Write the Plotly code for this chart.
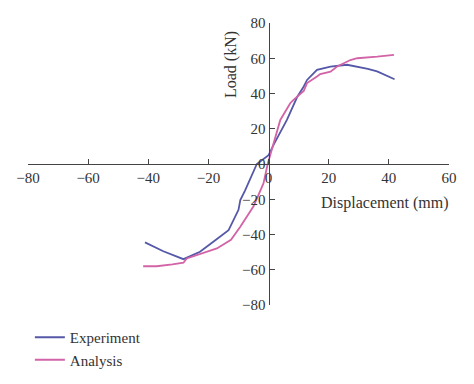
import plotly.graph_objects as go

exp_x = [-41.1, -35.0, -28.3, -22.8, -17.5, -13.3, -10.0, -9.4, -7.8, -3.9, 0.0, 1.7, 6.1, 9.5, 11.7, 12.8, 16.1, 20.6, 26.1, 29.5, 33.0, 36.1, 41.9]
exp_y = [-44.5, -49.5, -54.0, -49.8, -43.0, -37.5, -26.0, -20.5, -15.0, 0.0, 5.0, 11.0, 25.0, 38.0, 44.0, 47.7, 53.4, 55.3, 56.3, 55.3, 54.0, 52.5, 48.1]

ana_x = [-41.7, -37.2, -32.0, -28.3, -27.2, -22.0, -17.2, -12.5, -9.4, -5.0, -1.7, -0.3, 3.9, 7.2, 8.3, 11.7, 12.8, 16.1, 17.2, 20.6, 22.8, 27.2, 29.5, 36.1, 41.7]
ana_y = [-58.0, -58.0, -57.0, -56.0, -53.6, -50.5, -47.9, -43.0, -35.6, -24.0, -11.0, 0.0, 25.0, 34.5, 36.4, 41.5, 45.9, 49.6, 51.0, 52.4, 55.3, 59.0, 60.0, 60.9, 61.9]

x_ticks = [-80, -60, -40, -20, 0, 20, 40, 60]
y_ticks = [-80, -60, -40, -20, 0, 20, 40, 60, 80]

FONT = "Liberation Serif"
AX = "#444444"
TXT = "#333333"

fig = go.Figure()
fig.add_trace(go.Scatter(x=exp_x, y=exp_y, mode="lines", name="Experiment",
                         line=dict(color="#5558a8", width=1.8)))
fig.add_trace(go.Scatter(x=ana_x, y=ana_y, mode="lines", name="Analysis",
                         line=dict(color="#d263a6", width=1.8)))

fig.update_layout(
    width=474, height=384,
    margin=dict(l=28, r=25, t=23, b=79, autoexpand=False),
    paper_bgcolor="white", plot_bgcolor="white",
    font=dict(family=FONT, size=15, color=TXT),
    showlegend=True,
    legend=dict(xref="container", yref="container", x=0.063, y=0.164,
                xanchor="left", yanchor="top", bgcolor="rgba(0,0,0,0)",
                font=dict(family=FONT, size=15, color=TXT),
                tracegroupgap=0, itemwidth=30),
    xaxis=dict(range=[-80, 60], tickvals=x_ticks, ticktext=[str(v).replace("-", "\u2212") for v in x_ticks],
               showgrid=False, zeroline=False, showline=True, linecolor=AX, linewidth=1.3,
               ticks="inside", ticklen=5, tickcolor=AX, tickwidth=1.3,
               anchor="free", position=0.5, side="bottom", automargin=False,
               tickfont=dict(family=FONT, size=15, color=TXT)),
    yaxis=dict(range=[-80, 80], tickvals=y_ticks, ticktext=[str(v).replace("-", "\u2212") for v in y_ticks],
               showgrid=False, zeroline=False, showline=True, linecolor=AX, linewidth=1.3,
               ticks="inside", ticklen=5, tickcolor=AX, tickwidth=1.3,
               anchor="free", position=80/140, side="left", automargin=False,
               tickfont=dict(family=FONT, size=15, color=TXT)),
    annotations=[
        dict(text="Load (kN)", xref="paper", yref="paper", x=(231-28)/421, y=(305-65)/282,
             xanchor="center", yanchor="middle",
             showarrow=False, textangle=-90, font=dict(family=FONT, size=16, color=TXT)),
        dict(text="Displacement (mm)", xref="paper", yref="paper", x=(385-28)/421, y=(305-203)/282,
             xanchor="center", yanchor="middle",
             showarrow=False, font=dict(family=FONT, size=16, color=TXT)),
    ],
)

fig.write_html("out.html", config={"displayModeBar": False},
               post_script="document.body.style.margin='0';")
